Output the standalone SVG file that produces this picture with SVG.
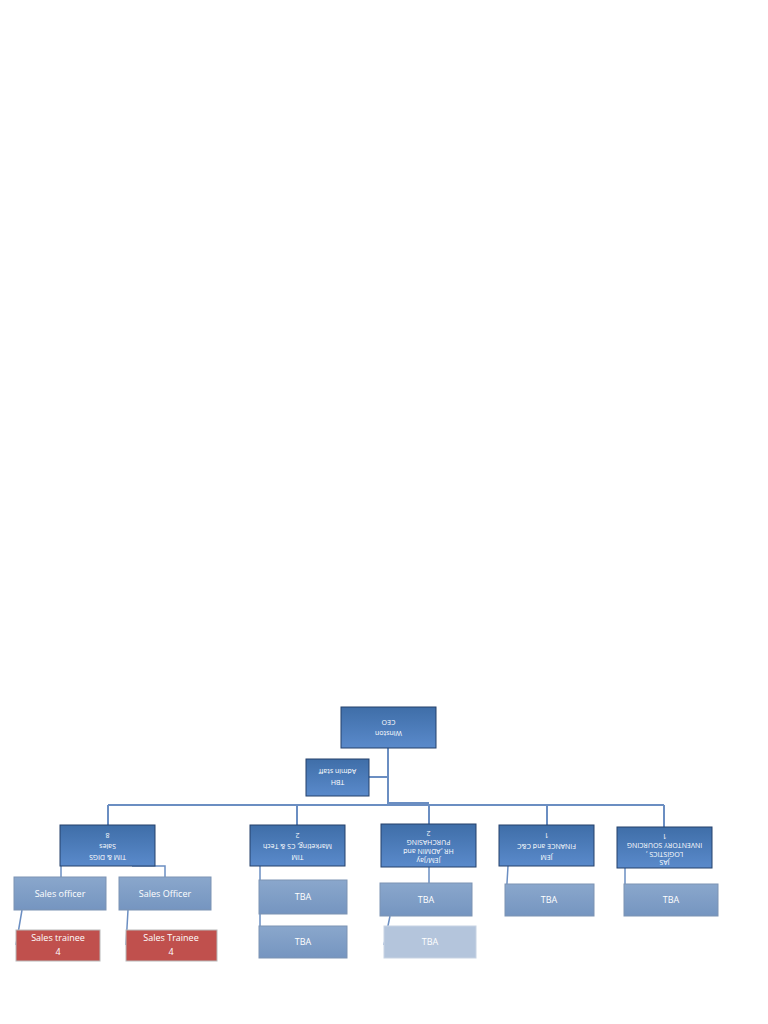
<svg xmlns="http://www.w3.org/2000/svg" width="768" height="1024" viewBox="0 0 768 1024">
<defs>
<linearGradient id="dk" x1="0" y1="0" x2="0" y2="1"><stop offset="0" stop-color="#3f6ea8"/><stop offset="1" stop-color="#5a8acb"/></linearGradient>
<linearGradient id="lt" x1="0" y1="0" x2="0" y2="1"><stop offset="0" stop-color="#8aa7cc"/><stop offset="1" stop-color="#7595c0"/></linearGradient>
</defs>
<style>
.d{fill:url(#dk);stroke:#24406b;stroke-width:1}
.l{fill:url(#lt);stroke:#7c93b3;stroke-width:1}
.r{fill:#c0504d;stroke:#b8b8b8;stroke-width:1}
.f{fill:#b4c5dc;stroke:#c8d3e3;stroke-width:1}
text{font-family:"Open Sans","Liberation Sans",sans-serif;fill:#fff;text-anchor:middle}
.s{font-size:7px}
.m{font-size:9px}
.c{stroke:#6b8ec2;stroke-width:2;fill:none}
</style>
<rect width="768" height="1024" fill="#fff"/>
<g id="connectors">
<path class="c" d="M388 748V805M369 777H388M108 805H664M108 805V825M297 805V825M429 805V824M547 805V825M664 805V827"/>
<path class="c" d="M388 803H429"/>
<path class="c" style="stroke-width:1.5" d="M61 866V877M132 866H165V877M260 866V958M429 867V883M508 866L506 900M625 868V900M22 910L16 945M128 910L126 945M390 916L384 945"/>
</g>
<g id="ceo"><rect class="d" x="341" y="707" width="95" height="41"/><g transform="rotate(180 388.5 727.5)"><text class="s" x="388.5" y="724">Winston</text><text class="s" x="388.5" y="735">CEO</text></g></g>
<g id="tbh"><rect class="d" x="306" y="759" width="63" height="37"/><g transform="rotate(180 337.5 777.5)"><text class="s" x="337.5" y="775">TBH</text><text class="s" x="337.5" y="786">Admin staff</text></g></g>
<g id="sales"><rect class="d" x="60" y="825" width="95" height="41"/><g transform="rotate(180 107.5 845.5)"><text class="s" x="107.5" y="836">TIM &amp; DIGS</text><text class="s" x="107.5" y="847">Sales</text><text class="s" x="107.5" y="858">8</text></g></g>
<g id="marketing"><rect class="d" x="250" y="825" width="95" height="41"/><g transform="rotate(180 297.5 845.5)"><text class="s" x="297.5" y="836">TIM</text><text class="s" x="297.5" y="847">Marketing, CS &amp; Tech</text><text class="s" x="297.5" y="858">2</text></g></g>
<g id="hr"><rect class="d" x="381" y="824" width="95" height="43"/><g transform="rotate(180 428.5 845.5)"><text class="s" x="428.5" y="833">JEM/Jay</text><text class="s" x="428.5" y="842">HR ,ADMIN and</text><text class="s" x="428.5" y="851">PURCHASING</text><text class="s" x="428.5" y="860">2</text></g></g>
<g id="finance"><rect class="d" x="499" y="825" width="95" height="41"/><g transform="rotate(180 546.5 845.5)"><text class="s" x="546.5" y="836">JEM</text><text class="s" x="546.5" y="847">FINANCE and C&amp;C</text><text class="s" x="546.5" y="858">1</text></g></g>
<g id="logistics"><rect class="d" x="617" y="827" width="95" height="41"/><g transform="rotate(180 664.5 847.5)"><text class="s" x="664.5" y="835">JAS</text><text class="s" x="664.5" y="843">LOGISTICS ,</text><text class="s" x="664.5" y="852">INVENTORY SOURCING</text><text class="s" x="664.5" y="861">1</text></g></g>
<g id="so1"><rect class="l" x="14" y="877" width="92" height="33"/><text class="m" x="60" y="897">Sales officer</text></g>
<g id="so2"><rect class="l" x="119" y="877" width="92" height="33"/><text class="m" x="165" y="897">Sales Officer</text></g>
<g id="st1"><rect class="r" x="16" y="930" width="84" height="31"/><text class="m" x="58" y="941">Sales trainee</text><text class="m" x="58" y="955">4</text></g>
<g id="st2"><rect class="r" x="126" y="930" width="91" height="31"/><text class="m" x="171" y="941">Sales Trainee</text><text class="m" x="171" y="955">4</text></g>
<g id="tba1"><rect class="l" x="259" y="880" width="88" height="34"/><text class="m" x="303" y="900">TBA</text></g>
<g id="tba2"><rect class="l" x="259" y="926" width="88" height="32"/><text class="m" x="303" y="945">TBA</text></g>
<g id="tba3"><rect class="l" x="380" y="883" width="92" height="33"/><text class="m" x="426" y="903">TBA</text></g>
<g id="tba4"><rect class="f" x="384" y="926" width="92" height="32"/><text class="m" x="430" y="945">TBA</text></g>
<g id="tba5"><rect class="l" x="505" y="884" width="89" height="32"/><text class="m" x="549" y="903">TBA</text></g>
<g id="tba6"><rect class="l" x="624" y="884" width="94" height="32"/><text class="m" x="671" y="903">TBA</text></g>
</svg>
